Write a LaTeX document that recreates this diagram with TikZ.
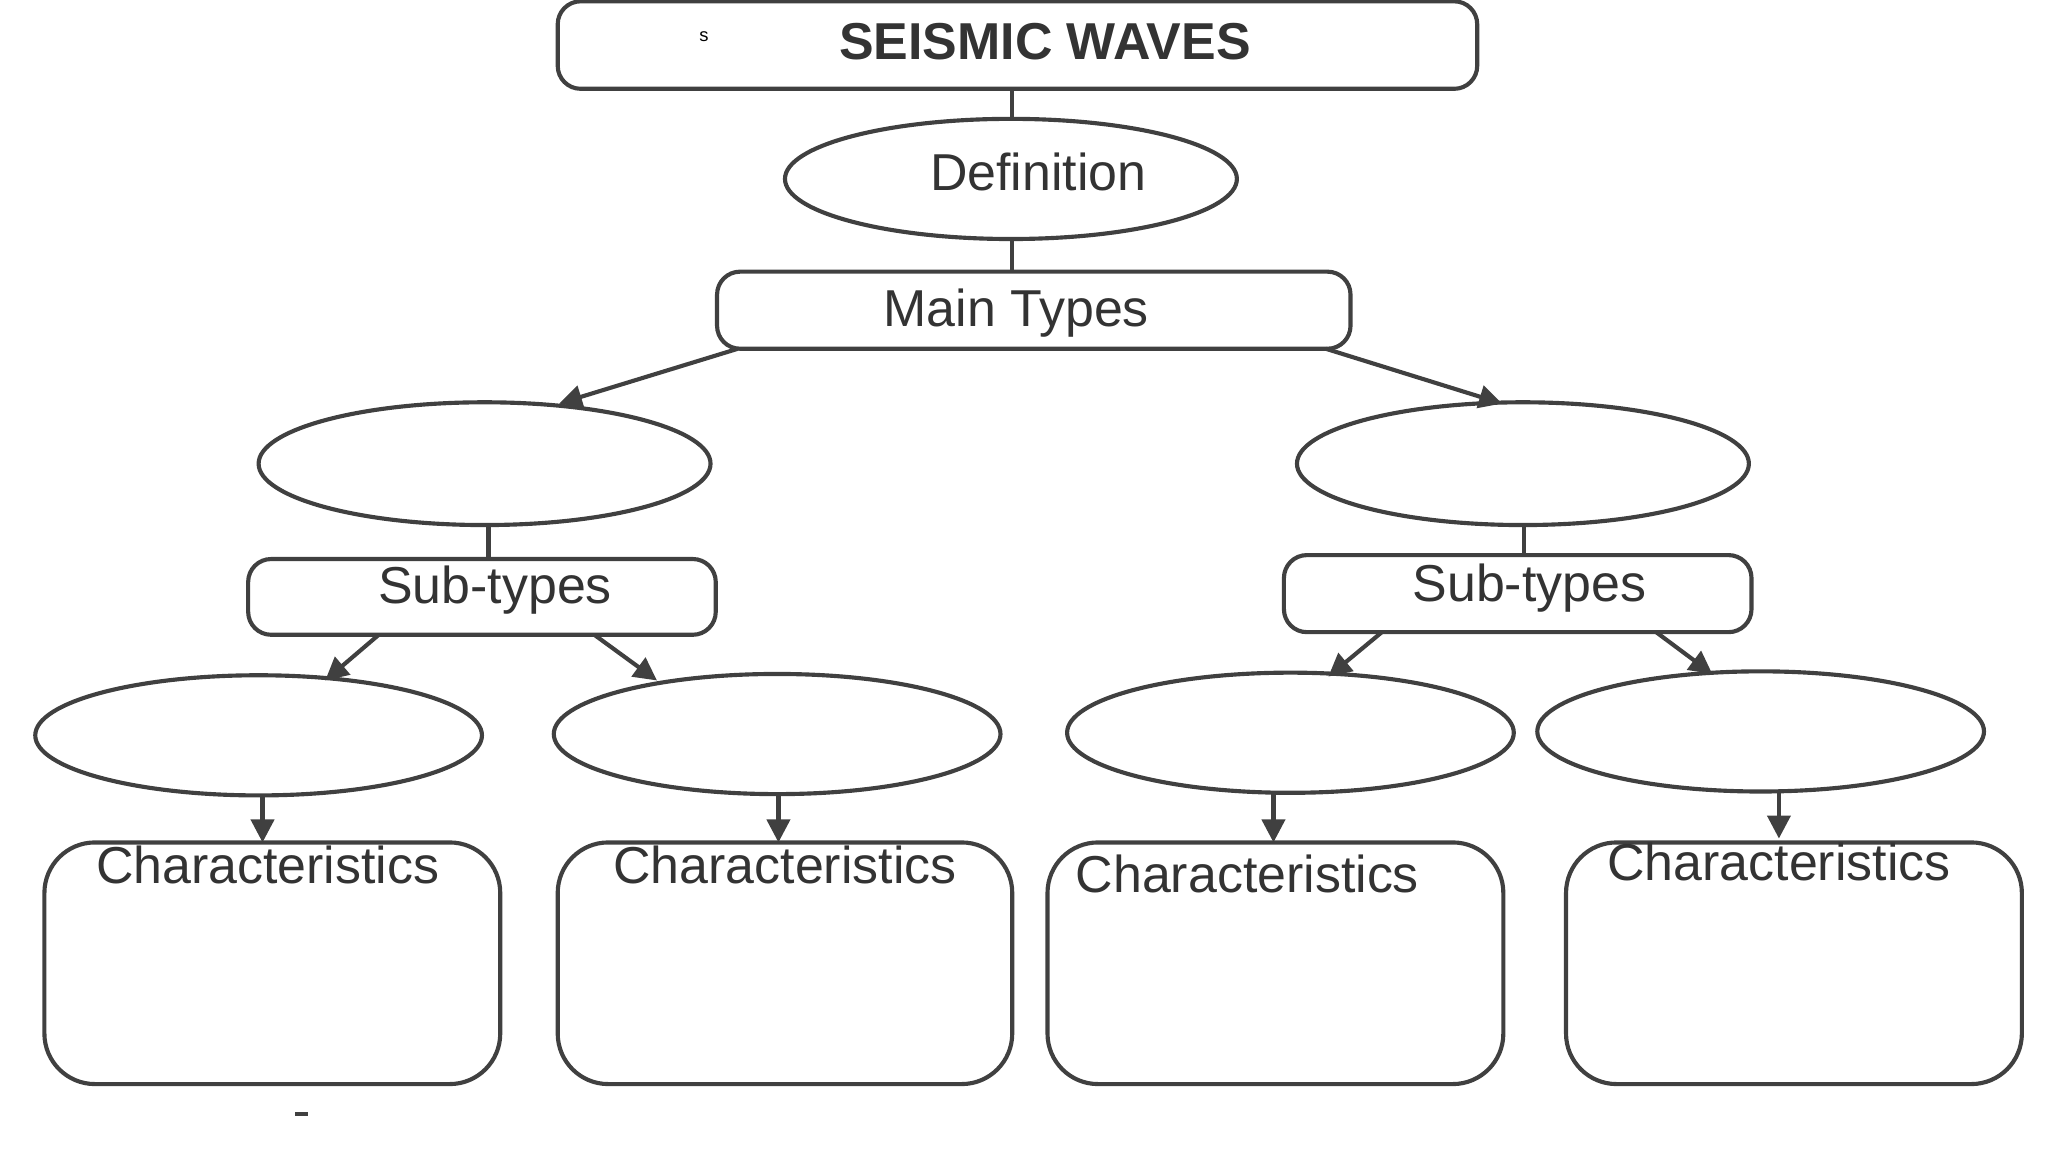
\documentclass[tikz,border=0pt]{standalone}
\usepackage{fontspec}
\setmainfont{Liberation Sans}
\usetikzlibrary{shapes.geometric,arrows.meta}
\begin{document}
\begin{tikzpicture}[x=0.01cm,y=-0.01cm,
  bx/.style={draw=black!75,line width=0.9pt,rounded corners=5pt},
  el/.style={draw=black!75,line width=0.9pt},
  ln/.style={draw=black!75,line width=0.9pt},
  ar/.style={ln,-{Triangle[length=5pt,width=5pt]}},
  lab/.style={font=\fontsize{11.3}{13}\selectfont,text=black!80}]
\useasboundingbox (0,0) rectangle (1568,882);
% title
\draw[bx] (427,1) rectangle (1131,68);
\node[lab,font=\fontsize{11.3}{13}\selectfont\bfseries] (title) at (800,32) {SEISMIC WAVES};
\node[font=\fontsize{4}{5}\selectfont] (s) at (539,28) {s};
\coordinate (tb) at (775,68);
% definition
\draw[el] (774,137) ellipse [x radius=173,y radius=46];
\node[lab] (def) at (795,132) {Definition};
\coordinate (dt) at (775,91); \coordinate (db) at (775,183);
\draw[ln] (tb) -- (dt);
% main types
\draw[bx] (549,208) rectangle (1034,267);
\node[lab] (mt) at (778,240) {Main Types};
\coordinate (mtt) at (775,208);
\draw[ln] (db) -- (mtt);
\coordinate (m1) at (565,267); \coordinate (m2) at (1015,267);
\coordinate (e1t) at (428,309); \coordinate (e2t) at (1150,309);
\draw[ar] (m1) -- (e1t);
\draw[ar] (m2) -- (e2t);
% level ellipses
\draw[el] (371,355) ellipse [x radius=173,y radius=47];
\draw[el] (1166,355) ellipse [x radius=173,y radius=47];
\coordinate (e1b) at (374,402); \coordinate (s1t) at (374,428);
\coordinate (e2b) at (1167,402); \coordinate (s2t) at (1167,425);
\draw[ln] (e1b) -- (s1t);
\draw[ln] (e2b) -- (s2t);
% subtypes
\draw[bx] (190,428) rectangle (548,486);
\node[lab] (st1) at (379,452) {Sub-types};
\draw[bx] (983,425) rectangle (1341,484);
\node[lab] (st2) at (1171,450) {Sub-types};
\foreach \a/\b/\c/\d/\n in {290/486/249/521/a,455/486/503/521/b,1058/484/1017/518/c,1268/484/1311/516/d}{
  \coordinate (p\n) at (\a,\b); \coordinate (q\n) at (\c,\d);
  \draw[ar] (p\n) -- (q\n);}
% bottom ellipses and boxes
\foreach \cx/\cy/\ax/\ay/\by/\bl/\br/\tx/\ty/\n in {
  198/563/201/610/645/34/383/205/662/a,
  595/562/596/608/645/427/775/601/662/b,
  988/561/975/608/645/802/1151/955/669/c,
  1348/560/1362/605/642/1199/1548/1362/660/d}{
  \draw[el] (\cx,\cy) ellipse [x radius=171,y radius=46];
  \coordinate (u\n) at (\ax,\ay); \coordinate (v\n) at (\ax,\by);
  \draw[ar] (u\n) -- (v\n);
  \draw[bx,rounded corners=11pt] (\bl,645) rectangle (\br,830);
  \node[lab] (ch\n) at (\tx,\ty) {Characteristics};}
\coordinate (k1) at (226,853); \coordinate (k2) at (236,853);
\draw[ln] (k1) -- (k2);
\end{tikzpicture}
\end{document}
